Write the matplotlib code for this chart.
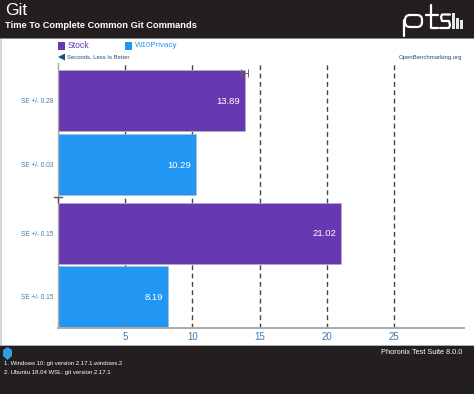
import matplotlib
matplotlib.use("Agg")
import matplotlib.pyplot as plt
from matplotlib.patches import FancyBboxPatch, Polygon, Rectangle

labels = ["SE +/- 0.28", "SE +/- 0.03", "SE +/- 0.15", "SE +/- 0.15"]
values = [13.89, 10.29, 21.02, 8.19]
errors = [0.28, 0.03, 0.15, 0.15]
series_names = ["Stock", "W10Privacy"]
series_colors = ["#6639b0", "#2196f3"]
bar_series = [0, 1, 0, 1]
xticks = [5, 10, 15, 20, 25]
notes = ["1. Windows 10: git version 2.17.1.windows.2", "2. Ubuntu 18.04 WSL: git version 2.17.1"]

W, H = 474, 394
DARK = "#231f20"
BLUE = "#3d7cb0"
bar_centers = [100.5, 164, 233, 296.5]
bar_height = 61

plt.rcParams["font.family"] = ["Liberation Sans", "DejaVu Sans"]
fig = plt.figure(figsize=(W / 100, H / 100), dpi=100, facecolor="white")

# overlay in pixel coordinates for header, footer and legend
bg = fig.add_axes([0, 0, 1, 1])
bg.set_xlim(0, W)
bg.set_ylim(H, 0)
bg.axis("off")
bg.add_patch(Rectangle((0, 38), 2, 308, color="#d8d8d8", lw=0))
bg.add_patch(Rectangle((0, 0), W, 38, color=DARK, lw=0))
bg.add_patch(Rectangle((0, 38), W, 1.2, color="#8a8a8a", lw=0))
bg.add_patch(Rectangle((0, 345.5), W, 48.5, color=DARK, lw=0))
bg.add_patch(Rectangle((0, 345), W, 1, color="#b0b0b0", lw=0))

# plot area: 58..464 px wide, 63..328 px tall
ax = fig.add_axes([58 / W, 1 - 328 / H, (464 - 58) / W, (328 - 63) / H])
ax.set_xlim(0, 30.2)
ax.set_ylim(328, 63)
ax.patch.set_alpha(0)
for s in ["top", "right"]:
    ax.spines[s].set_visible(False)
ax.spines["bottom"].set_color("#aaaaaa")
ax.spines["bottom"].set_linewidth(1.4)
ax.spines["left"].set_color("#aaaaaa")
ax.spines["left"].set_linewidth(1.0)

for x in xticks:
    ax.axvline(x, color="#444444", lw=1.0, ls=(0, (3.5, 2.5)), zorder=1)
ax.barh(bar_centers, values, height=bar_height, color=[series_colors[i] for i in bar_series],
        edgecolor="#b5b5b5", linewidth=0.4, zorder=2)
ax.errorbar(values[0], 73, xerr=errors[0], color="#666666", lw=0.7, capsize=3, capthick=0.7, zorder=3)

for c, v in zip(bar_centers, values):
    ax.text(v - 0.35, c + 1, f"{v:.2f}", color="white", fontsize=6.8, ha="right", va="center", zorder=4)

ax.set_xticks(xticks)
ax.set_xticklabels([str(x) for x in xticks], color=BLUE, fontsize=7)
ax.tick_params(axis="x", length=0, pad=3)
ax.set_yticks(bar_centers)
ax.set_yticklabels(labels, color=BLUE, fontsize=4.7)
ax.tick_params(axis="y", length=0, pad=3)
ax.plot([-0.3, 0.3], [197, 197], color="#555555", lw=1, clip_on=False, zorder=3)
ax.plot([0, 0], [197, 202], color="#555555", lw=1, clip_on=False, zorder=3)

bg.text(5, 10.5, "Git", color="white", fontsize=12.5, va="center")
bg.text(5, 25.5, "Time To Complete Common Git Commands", color="white", fontsize=6.7,
        fontweight="bold", va="center")

# pts logo drawn as strokes
logo_lw = 1.6
bg.add_patch(FancyBboxPatch((405, 15), 17, 12, boxstyle="round,pad=0,rounding_size=5",
                            fc="none", ec="white", lw=logo_lw))
bg.plot([404.5, 404.5], [20, 35.5], color="white", lw=logo_lw, solid_capstyle="round")
bg.plot([431, 431, 438], [5, 28, 28], color="white", lw=logo_lw, solid_capstyle="round")
bg.plot([426, 438], [14.5, 14.5], color="white", lw=logo_lw, solid_capstyle="round")
bg.plot([450, 442, 441, 442, 449, 450, 449, 440], [14.5, 14.5, 17, 21, 21, 25, 28, 28],
        color="white", lw=logo_lw, solid_capstyle="round", solid_joinstyle="round")
for x, top in [(452, 13), (456, 18), (460, 20)]:
    bg.add_patch(Rectangle((x, top), 2.6, 29 - top, color="#e6e6e6", lw=0))

for x, name, col, size in [(58, series_names[0], series_colors[0], 6.2), (125, series_names[1], series_colors[1], 5.8)]:
    bg.add_patch(Rectangle((x, 41.5), 7.5, 8, color=col, lw=0))
    bg.text(x + 10, 45.5, name, color=col, fontsize=size, va="center")
bg.add_patch(Polygon([[58, 57], [65, 53.5], [65, 60.5]], color="#1f4e79", lw=0))
bg.text(67, 57, "Seconds, Less Is Better", color="#1f4e79", fontsize=4.2, va="center")
bg.text(462, 57, "OpenBenchmarking.org", color="#1f4e79", fontsize=4.3, va="center", ha="right")

# footer
bg.add_patch(Polygon([[3, 350], [7.5, 347], [12, 350], [12, 356], [7.5, 360], [3, 356]], color="#2f9fe0", lw=0))
bg.text(4, 364, notes[0], color="white", fontsize=4.3, va="center")
bg.text(4, 372.5, notes[1], color="white", fontsize=4.3, va="center")
bg.text(462, 352.5, "Phoronix Test Suite 8.0.0", color="white", fontsize=5.3, va="center", ha="right")

fig.savefig("out.png", dpi=100)
